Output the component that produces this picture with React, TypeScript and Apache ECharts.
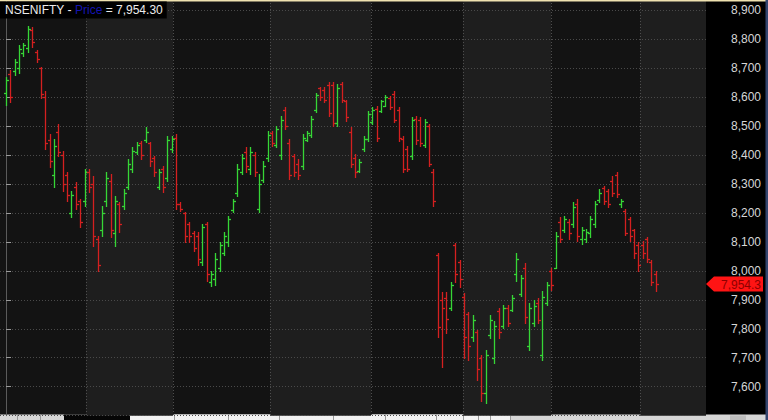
import React, { useEffect, useRef } from "react";
import * as echarts from "echarts";

// OHLC bars, one per trading day (oldest first)
const opens = [
  8615, 8680, 8690, 8700, 8750, 8770, 8830, 8755, 8700, 8600,
  8450, 8330, 8480, 8400, 8330, 8200, 8290, 8240, 8240, 8340,
  8300, 8110, 8140, 8240, 8310, 8130, 8230, 8225, 8290, 8350,
  8410, 8440, 8450, 8440, 8390, 8290, 8350, 8320, 8420, 8460,
  8230, 8200, 8160, 8130, 8120, 8030, 8160, 7960, 7970, 8010,
  8060, 8100, 8210, 8270, 8340, 8410, 8350, 8400, 8215, 8315,
  8390, 8475, 8435, 8400, 8555, 8440, 8395, 8370, 8360, 8452,
  8470, 8555, 8630, 8625, 8640, 8640, 8510, 8645, 8585, 8480,
  8390, 8345, 8420, 8455, 8515, 8560, 8550, 8570, 8595, 8610,
  8555, 8455, 8420, 8395, 8525, 8520, 8435, 8500, 8340, 8055,
  7900, 7905, 7870, 8090, 8030, 7910, 7850, 7770, 7790, 7700,
  7580, 7780, 7700, 7860, 7810, 7870, 7865, 7990, 7920, 8010,
  7740, 7820, 7890, 7710, 7890, 8000, 8010, 8170, 8140, 8170,
  8160, 8230, 8110, 8110, 8130, 8160, 8245, 8285, 8275, 8310,
  8330, 8230, 8205, 8180, 8140, 8090, 8090, 8110, 8030, 7990,
];
const highs = [
  8670, 8694, 8732, 8780, 8787, 8845, 8842, 8763, 8704, 8619,
  8471, 8454, 8506, 8413, 8341, 8276, 8307, 8248, 8351, 8351,
  8327, 8121, 8224, 8341, 8334, 8259, 8238, 8282, 8385, 8427,
  8444, 8447, 8495, 8444, 8396, 8351, 8361, 8464, 8464, 8471,
  8238, 8204, 8170, 8139, 8135, 8163, 8170, 8001, 8060, 8101,
  8135, 8190, 8248, 8368, 8403, 8427, 8427, 8410, 8334, 8379,
  8482, 8482, 8499, 8533, 8564, 8454, 8403, 8385, 8471, 8482,
  8533, 8615, 8636, 8633, 8650, 8650, 8643, 8653, 8591, 8495,
  8403, 8385, 8464, 8550, 8564, 8567, 8591, 8608, 8602, 8619,
  8564, 8464, 8430, 8530, 8533, 8530, 8523, 8506, 8352, 8062,
  7927, 7927, 7962, 8096, 8037, 7924, 7858, 7847, 7796, 7710,
  7727, 7847, 7826, 7871, 7881, 7881, 7915, 8060, 7984, 8026,
  7888, 7898, 7905, 7932, 7963, 8008, 8135, 8187, 8190, 8180,
  8238, 8248, 8152, 8145, 8190, 8241, 8282, 8293, 8282, 8327,
  8341, 8248, 8214, 8187, 8145, 8101, 8104, 8118, 8036, 8001,
];
const lows = [
  8571, 8584, 8677, 8684, 8742, 8756, 8773, 8722, 8598, 8420,
  8358, 8289, 8396, 8276, 8241, 8186, 8214, 8152, 8224, 8272,
  8087, 8001, 8121, 8224, 8118, 8087, 8135, 8214, 8282, 8341,
  8403, 8385, 8444, 8361, 8327, 8282, 8272, 8310, 8410, 8214,
  8207, 8101, 8101, 8067, 8019, 8019, 7964, 7946, 7950, 7998,
  8053, 8087, 8204, 8259, 8334, 8341, 8334, 8327, 8204, 8307,
  8379, 8430, 8427, 8385, 8488, 8317, 8327, 8317, 8351, 8447,
  8461, 8547, 8591, 8581, 8533, 8499, 8499, 8581, 8516, 8358,
  8324, 8341, 8413, 8447, 8506, 8447, 8547, 8567, 8557, 8512,
  8447, 8341, 8344, 8386, 8437, 8430, 8427, 8361, 8222, 7772,
  7668, 7786, 7865, 7962, 7944, 7700, 7692, 7758, 7624, 7552,
  7545, 7768, 7682, 7768, 7802, 7809, 7860, 7964, 7912, 7820,
  7727, 7809, 7820, 7693, 7881, 7933, 8008, 8101, 8135, 8111,
  8152, 8104, 8094, 8101, 8118, 8152, 8238, 8231, 8221, 8259,
  8255, 8221, 8122, 8104, 8043, 8001, 8043, 8032, 7950, 7929,
];
const closes = [
  8660, 8600, 8720, 8765, 8780, 8835, 8790, 8730, 8610, 8440,
  8380, 8430, 8410, 8300, 8260, 8260, 8230, 8170, 8340, 8290,
  8120, 8020, 8200, 8320, 8140, 8240, 8160, 8270, 8370, 8415,
  8435, 8400, 8480, 8380, 8340, 8340, 8290, 8450, 8455, 8230,
  8215, 8120, 8120, 8080, 8040, 8150, 7990, 7990, 8040, 8090,
  8120, 8180, 8240, 8350, 8390, 8360, 8410, 8340, 8300, 8360,
  8470, 8440, 8490, 8520, 8500, 8330, 8340, 8330, 8460, 8475,
  8525, 8605, 8600, 8590, 8545, 8510, 8630, 8590, 8530, 8370,
  8340, 8375, 8455, 8540, 8555, 8460, 8585, 8600, 8565, 8520,
  8460, 8350, 8350, 8520, 8450, 8440, 8515, 8370, 8240, 7806,
  7870, 7835, 7950, 7990, 7970, 7770, 7740, 7830, 7660, 7580,
  7710, 7830, 7810, 7790, 7870, 7820, 7905, 8040, 7975, 7840,
  7870, 7880, 7830, 7910, 7950, 7950, 8120, 8110, 8180, 8130,
  8220, 8120, 8140, 8135, 8180, 8230, 8270, 8240, 8230, 8270,
  8265, 8240, 8130, 8120, 8060, 8020, 8060, 8040, 7960, 7954.3,
];

// month boundaries, in bar-index units
const monthBreaks = [18.34, 38.29, 60.52, 83.68, 104.77, 124.94, 145.35];

const symbol = "NSENIFTY";
const fieldName = "Price";
const yMinTick = 7500;
const yStep = 100;

const UP = "#36d636";
const DOWN = "#d42020";
const FONT = 'Arial, "Liberation Sans", sans-serif';
const TITLE_FONT = `12px ${FONT}`;

const fmt = (v: number, d = 0) =>
  v.toLocaleString("en-US", { minimumFractionDigits: d, maximumFractionDigits: d });

function measure(text: string, font: string): number {
  const ctx = document.createElement("canvas").getContext("2d");
  if (!ctx) return text.length * 6.5;
  ctx.font = font;
  return ctx.measureText(text).width;
}

export default function App() {
  const ref = useRef<HTMLDivElement>(null);

  useEffect(() => {
    const chart = echarts.init(ref.current!, null, { renderer: "svg" });
    const xMin = -1.376;
    const xMax = 160.5;
    const yMax = 8934.5;
    const last = closes[closes.length - 1];

    const ohlcData = opens.map((o, i) => [i, o, highs[i], lows[i], closes[i]]);
    const bandData = monthBreaks.map((b, k) => [b, k]);

    const option: any = {
      animation: false,
      backgroundColor: "#000000",
      grid: {
        left: 0,
        right: 62,
        top: 0,
        bottom: 4.3,
        show: true,
        backgroundColor: "#131313",
        borderWidth: 0,
        z: 0,
      },
      xAxis: {
        type: "value",
        min: xMin,
        max: xMax,
        show: false,
      },
      yAxis: {
        type: "value",
        position: "right",
        min: yMinTick,
        max: yMax,
        interval: yStep,
        z: 2,
        axisLine: { show: true, lineStyle: { color: "#5a5a5a", width: 1 } },
        axisTick: { show: true, length: 5, lineStyle: { color: "#9a9a9a" } },
        axisLabel: {
          color: "#d6d6d6",
          fontSize: 12,
          fontFamily: FONT,
          align: "right",
          margin: 55,
          showMinLabel: false,
          showMaxLabel: false,
          formatter: (v: number) => (Math.abs(v % yStep) < 1e-6 ? fmt(v) : ""),
        },
        splitLine: { show: true, lineStyle: { color: "#4a4a4a", type: [1, 2], width: 1 } },
      },
      series: [
        {
          type: "custom",
          name: "bands",
          z: 1,
          silent: true,
          data: bandData,
          renderItem: (params: any, api: any) => {
            const b = api.value(0);
            const k = api.value(1);
            const cs = params.coordSys;
            const x0 = Math.round(api.coord([b, yMax])[0]);
            const next = k + 1 < monthBreaks.length ? monthBreaks[k + 1] : xMax;
            const x1 = Math.round(api.coord([next, yMax])[0]);
            const children: any[] = [];
            if (k % 2 === 0) {
              children.push({
                type: "rect",
                shape: { x: x0, y: cs.y, width: x1 - x0, height: cs.height },
                style: { fill: "#1e1e1e" },
              });
            }
            children.push({
              type: "line",
              shape: { x1: x0 + 0.5, y1: cs.y, x2: x0 + 0.5, y2: cs.y + cs.height },
              style: { stroke: "#4e4e4e", lineWidth: 1, lineDash: [1, 2] },
            });
            return { type: "group", children };
          },
        },
        {
          type: "custom",
          name: "ohlc",
          z: 3,
          data: ohlcData,
          encode: { x: 0, y: [1, 2, 3, 4] },
          renderItem: (_params: any, api: any) => {
            const i = api.value(0);
            const o = api.value(1);
            const h = api.value(2);
            const l = api.value(3);
            const c = api.value(4);
            const ph = api.coord([i, h]);
            const pl = api.coord([i, l]);
            const po = api.coord([i, o]);
            const pc = api.coord([i, c]);
            const x = Math.round(ph[0]) + 0.5;
            const yo = Math.round(po[1]) + 0.5;
            const yc = Math.round(pc[1]) + 0.5;
            const color = c >= o ? UP : DOWN;
            const st = { stroke: color, lineWidth: 1.3 };
            return {
              type: "group",
              children: [
                { type: "line", shape: { x1: x, y1: Math.round(ph[1]), x2: x, y2: Math.round(pl[1]) + 1 }, style: st },
                { type: "line", shape: { x1: x - 2.5, y1: yo, x2: x, y2: yo }, style: st },
                { type: "line", shape: { x1: x, y1: yc, x2: x + 2.5, y2: yc }, style: st },
              ],
            };
          },
        },
      ],
    };

    chart.setOption(option);

    const yPix = chart.convertToPixel({ yAxisIndex: 0 }, last) as number;
    const xPix = chart.convertToPixel({ xAxisIndex: 0 }, xMax) as number;

    const t1 = `${symbol} - `;
    const t2 = fieldName;
    const t3 = ` = ${fmt(last, 2)}`;
    const w1 = measure(t1, TITLE_FONT);
    const w2 = measure(t2, TITLE_FONT);
    const w3 = measure(t3, TITLE_FONT);
    const titleX = 5;

    chart.setOption({
      graphic: [
        {
          type: "rect",
          id: "topline",
          left: 0,
          top: 0,
          z: 100,
          shape: { width: 768, height: 1.5 },
          style: { fill: "#efe2b0" },
        },
        {
          type: "rect",
          id: "rightborder",
          right: 0,
          top: 0,
          z: 100,
          shape: { width: 2.5, height: 420 },
          style: { fill: "#34456e" },
        },
        {
          type: "group",
          id: "tabs",
          left: 0,
          bottom: 0,
          z: 100,
          children: [
            { type: "rect", shape: { x: 0, y: 0, width: 768, height: 5.5 }, style: { fill: "#d6d6d6" } },
            { type: "rect", shape: { x: 130, y: 0, width: 380, height: 5.5 }, style: { fill: "#f2f2f2" } },
            { type: "rect", shape: { x: 64, y: 0, width: 66, height: 5.5 }, style: { fill: "#050505" } },
            ...[17, 40, 174, 228, 279, 333, 385, 436, 463, 478, 490, 510].map((sx) => ({
              type: "rect",
              shape: { x: sx, y: 0, width: 1, height: 5.5 },
              style: { fill: "#9a9a9a" },
            })),
            { type: "rect", shape: { x: 730, y: 1, width: 16, height: 4.5 }, style: { fill: "#bdbdbd" } },
          ],
        },
        {
          type: "rect",
          id: "titlebg",
          z: 100,
          shape: { x: 0, y: 1.5, width: titleX + w1 + w2 + w3 + 4, height: 17 },
          style: { fill: "#000000" },
        },
        {
          type: "text",
          id: "title1",
          z: 101,
          x: titleX,
          y: 10,
          style: { text: t1, font: TITLE_FONT, fill: "#ececec", verticalAlign: "middle" },
        },
        {
          type: "text",
          id: "title2",
          z: 101,
          x: titleX + w1,
          y: 10,
          style: { text: t2, font: TITLE_FONT, fill: "#1414b0", verticalAlign: "middle" },
        },
        {
          type: "text",
          id: "title3",
          z: 101,
          x: titleX + w1 + w2,
          y: 10,
          style: { text: t3, font: TITLE_FONT, fill: "#ececec", verticalAlign: "middle" },
        },
        {
          type: "polygon",
          id: "pricetagbg",
          z: 110,
          shape: {
            points: [
              [xPix, yPix],
              [xPix + 8, yPix - 7.5],
              [xPix + 57, yPix - 7.5],
              [xPix + 57, yPix + 7.5],
              [xPix + 8, yPix + 7.5],
            ],
          },
          style: { fill: "#ff1414" },
        },
        {
          type: "text",
          id: "pricetagtext",
          z: 111,
          x: xPix + 55,
          y: yPix + 0.5,
          style: {
            text: fmt(last, 1),
            font: TITLE_FONT,
            fill: "#8e0000",
            align: "right",
            verticalAlign: "middle",
          },
        },
      ],
    });

    return () => chart.dispose();
  }, []);

  return (
    <div
      ref={ref}
      style={{ position: "fixed", left: 0, top: 0, width: 768, height: 420 }}
    />
  );
}
